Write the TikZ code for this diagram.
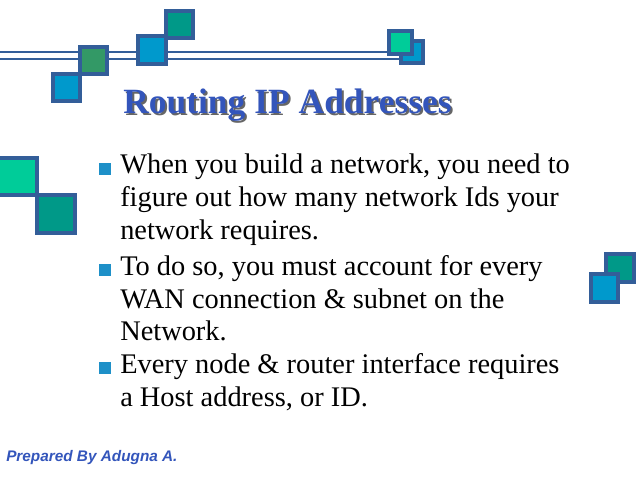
\documentclass[tikz,border=0pt]{standalone}
\usepackage{fontspec}
\setmainfont{Liberation Serif}
\newfontfamily\footfont{Liberation Sans}
\begin{document}
\begin{tikzpicture}[x=0.75pt,y=-0.75pt,
  sq/.style={draw=frame,line width=2.4pt},
  txt/.style={anchor=west,inner sep=0pt,font=\fontsize{21.3}{24.6}\selectfont,align=left},
  bul/.style={fill=bulblue,minimum size=8.5pt,inner sep=0pt}]
\definecolor{frame}{HTML}{335E99}
\definecolor{sblue}{HTML}{0099CC}
\definecolor{sgreen}{HTML}{339966}
\definecolor{steal}{HTML}{009988}
\definecolor{sbright}{HTML}{00CC99}
\definecolor{bulblue}{HTML}{1E90C8}
\definecolor{titleblue}{HTML}{3355BB}
\useasboundingbox (0,0) rectangle (638,478);
% double line
\draw[frame,line width=1.8pt] (0,52) -- (400,52);
\draw[frame,line width=1.8pt] (0,59) -- (400,59);
\fill[white] (0,54) rectangle (400,57);
% top squares
\draw[sq,fill=sblue] (53,74) rectangle (80,101);
\draw[sq,fill=sgreen] (80,47) rectangle (107,74);
\draw[sq,fill=sblue] (138,36) rectangle (166,64);
\draw[sq,fill=steal] (166,11) rectangle (193,38);
\draw[sq,fill=sblue] (401,41) rectangle (423,63);
\draw[sq,fill=sbright] (389,31) rectangle (412,54);
% left squares
\draw[sq,fill=sbright] (-2,158) rectangle (37,195);
\draw[sq,fill=steal] (37,195) rectangle (75,233);
% right squares
\draw[sq,fill=steal] (606,254) rectangle (634,282);
\draw[sq,fill=sblue] (591,274) rectangle (618,302);
% title
\node[anchor=west,inner sep=0pt,text=black!60,font=\fontsize{26.6}{30}\selectfont\bfseries] at (125,107) {Routing IP Addresses};
\node[anchor=west,inner sep=0pt,text=titleblue,font=\fontsize{26.6}{30}\selectfont\bfseries] (title) at (123,105) {Routing IP Addresses};
% bullets
\node[bul] (b1) at (105,169) {};
\node[bul] (b2) at (105,270) {};
\node[bul] (b3) at (105,368) {};
\node[txt,anchor=north west] (t1) at (120,154) {When you build a network, you need to\\figure out how many network Ids your\\network requires.};
\node[txt,anchor=north west] (t2) at (120,255) {To do so, you must account for every\\WAN connection \& subnet on the\\Network.};
\node[txt,anchor=north west] (t3) at (120,353) {Every node \& router interface requires\\a Host address, or ID.};
\node[anchor=west,inner sep=0pt,text=titleblue,font=\footfont\fontsize{11.5}{13}\selectfont\bfseries\itshape] (foot) at (6,458) {Prepared By Adugna A.};
\end{tikzpicture}
\end{document}
